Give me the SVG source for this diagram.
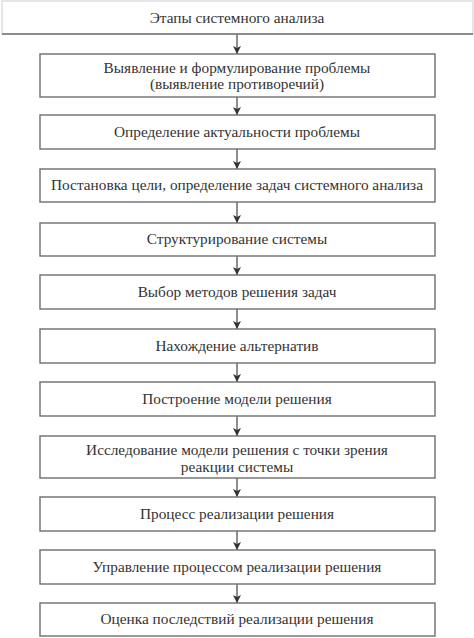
<svg xmlns="http://www.w3.org/2000/svg" width="474" height="638" viewBox="0 0 474 638">
<defs>
<style>
.box{fill:#fff;stroke:#6e6e6e;stroke-width:1.4}
.t{font-family:'Liberation Serif','DejaVu Serif',serif;font-size:15.3px;fill:#333;text-anchor:middle}
.c{stroke:#444;stroke-width:1.2;fill:none}
</style>
<marker id="ah" markerWidth="8" markerHeight="10" viewBox="0 0 8 10" refX="8" refY="5" orient="auto" markerUnits="userSpaceOnUse">
<path d="M0,1 L8,5 L0,9 L2,5 Z" fill="#333"/>
</marker>
</defs>
<rect width="474" height="638" fill="#fff"/>
<g id="connectors">
<line class="c" x1="237" y1="34" x2="237" y2="54" marker-end="url(#ah)"/>
<line class="c" x1="237" y1="97" x2="237" y2="115" marker-end="url(#ah)"/>
<line class="c" x1="237" y1="149" x2="237" y2="169" marker-end="url(#ah)"/>
<line class="c" x1="237" y1="202" x2="237" y2="223" marker-end="url(#ah)"/>
<line class="c" x1="237" y1="256" x2="237" y2="275" marker-end="url(#ah)"/>
<line class="c" x1="237" y1="309" x2="237" y2="329" marker-end="url(#ah)"/>
<line class="c" x1="237" y1="363" x2="237" y2="382" marker-end="url(#ah)"/>
<line class="c" x1="237" y1="416" x2="237" y2="436" marker-end="url(#ah)"/>
<line class="c" x1="237" y1="478" x2="237" y2="497" marker-end="url(#ah)"/>
<line class="c" x1="237" y1="531" x2="237" y2="550" marker-end="url(#ah)"/>
<line class="c" x1="237" y1="584" x2="237" y2="603" marker-end="url(#ah)"/>
</g>
<g id="n0">
<rect x="2" y="1" width="471" height="33" fill="#fff" stroke="#dcdcdc" stroke-width="1.4"/>
<line x1="2" y1="34" x2="473" y2="34" stroke="#6e6e6e" stroke-width="1.4"/>
<text class="t" x="237" y="23">Этапы системного анализа</text>
</g>
<g id="n1">
<rect class="box" x="40" y="54" width="395" height="43"/>
<text class="t" x="237" y="73">Выявление и формулирование проблемы</text>
<text class="t" x="237" y="89">(выявление противоречий)</text>
</g>
<g id="n2">
<rect class="box" x="40" y="115" width="395" height="34"/>
<text class="t" x="237" y="137">Определение актуальности проблемы</text>
</g>
<g id="n3">
<rect class="box" x="40" y="169" width="395" height="33"/>
<text class="t" x="237" y="190">Постановка цели, определение задач системного анализа</text>
</g>
<g id="n4">
<rect class="box" x="40" y="223" width="395" height="33"/>
<text class="t" x="237" y="244">Структурирование системы</text>
</g>
<g id="n5">
<rect class="box" x="40" y="275" width="395" height="34"/>
<text class="t" x="237" y="297">Выбор методов решения задач</text>
</g>
<g id="n6">
<rect class="box" x="40" y="329" width="395" height="34"/>
<text class="t" x="237" y="351">Нахождение альтернатив</text>
</g>
<g id="n7">
<rect class="box" x="40" y="382" width="395" height="34"/>
<text class="t" x="237" y="404">Построение модели решения</text>
</g>
<g id="n8">
<rect class="box" x="40" y="436" width="395" height="42"/>
<text class="t" x="237" y="455">Исследование модели решения с точки зрения</text>
<text class="t" x="237" y="472">реакции системы</text>
</g>
<g id="n9">
<rect class="box" x="40" y="497" width="395" height="34"/>
<text class="t" x="237" y="519">Процесс реализации решения</text>
</g>
<g id="n10">
<rect class="box" x="40" y="550" width="395" height="34"/>
<text class="t" x="237" y="572">Управление процессом реализации решения</text>
</g>
<g id="n11">
<rect class="box" x="40" y="603" width="395" height="33"/>
<text class="t" x="237" y="624">Оценка последствий реализации решения</text>
</g>
</svg>
